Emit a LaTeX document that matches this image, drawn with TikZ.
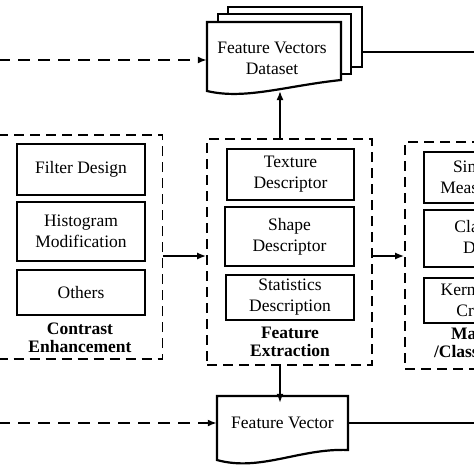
\documentclass[tikz,border=0pt]{standalone}
\usepackage{fontspec}
\setmainfont{Liberation Serif}
\usetikzlibrary{arrows.meta,positioning,calc}
\tikzset{
	item/.style={draw, line width=1.8pt, minimum width=128pt, align=center, inner sep=0pt},
	group/.style={draw, line width=1.6pt, dash pattern=on 10pt off 6pt, minimum width=165pt},
	title/.style={font=\fontsize{17.5}{18}\selectfont\bfseries, align=center},
	sheet/.style={draw, fill=white, line width=2.2pt, inner sep=0pt},
	docline/.style={draw, fill=white, line width=2.2pt},
	doctext/.style={align=center, inner sep=0pt, minimum height=40pt},
	flow/.style={->, line width=1.7pt},
	feed/.style={->, line width=1.7pt, dash pattern=on 12pt off 8pt},
}
\begin{document}
\begin{tikzpicture}[x=1pt, y=-1pt, >={Latex[length=9pt,width=7pt]}, font=\fontsize{17.5}{21}\selectfont]
	\useasboundingbox (0,0) rectangle (474,474);
	\clip (0,0) rectangle (474,474);
	% stacked dataset sheets
	\node[sheet, minimum width=134pt, minimum height=60pt] (fvd3) at (295,37) {};
	\node[sheet, minimum width=133pt, minimum height=60pt] (fvd2) at (284.5,44) {};
	\draw[docline] (207,91) -- (207,22) -- (341,22) -- (341,80) .. controls (285,86) and (245,100) .. cycle;
	\node[doctext, minimum width=130pt] (fvd) at (272,58) {Feature Vectors\\Dataset};
	\coordinate (fvdfoot) at (280,91);
	% contrast enhancement
	\node[group, minimum height=224pt] (ce) at (80,247) {};
	\node[item, minimum height=51pt] (fd) at (81,169.5) {Filter Design};
	\node[item, minimum height=59pt] (hm) at (81,231.5) {Histogram\\Modification};
	\node[item, minimum height=45pt] (ot) at (81,292.5) {Others};
	\node[title] (cet) at (80,338) {Contrast\\Enhancement};
	% feature extraction
	\node[group, minimum height=226pt] (fe) at (289.5,252) {};
	\node[item, minimum width=127pt, minimum height=51pt] (td) at (290.5,174.5) {Texture\\Descriptor};
	\node[item, minimum width=129pt, minimum height=59pt] (sd) at (289.5,236.5) {Shape\\Descriptor};
	\node[item, minimum height=45pt] (st) at (290,297.5) {Statistics\\Description};
	\node[title] (fet) at (290,341.5) {Feature\\Extraction};
	% matching / classification
	\node[group, minimum height=227pt] (mc) at (487.5,255.5) {};
	\node[item, minimum height=51pt] (sm) at (488,177.5) {Similarity\\Measurement};
	\node[item, minimum height=57pt] (cd) at (488,238.5) {Classifier\\Design};
	\node[item, minimum height=45pt] (kc) at (488,300.5) {Kernel Based\\Criterion};
	\node[title] (mct) at (487,343) {Matching\\/Classification};
	% query feature vector
	\draw[docline] (217,460) -- (217,396) -- (348,396) -- (348,450) .. controls (300,448) and (260,472) .. cycle;
	\node[doctext, minimum width=131pt] (fv) at (282.5,423) {Feature Vector};
	% connectors
	\coordinate (row) at (0,256);
	\coordinate (in1) at (-2,60);
	\coordinate (in2) at (-2,423);
	\coordinate (out1) at (476,52);
	\coordinate (out2) at (476,423);
	\draw[feed] (in1) -- (fvd.west |- in1);
	\draw[line width=1.7pt] (fvd3.east |- out1) -- (out1);
	\draw[flow] (fe.north -| fvdfoot) -- (fvdfoot);
	\draw[flow] (ce.east |- row) -- (fe.west |- row);
	\draw[flow] (fe.east |- row) -- (mc.west |- row);
	\draw[flow] (fe.south -| fvdfoot) -- (fv.north -| fvdfoot);
	\draw[feed] (in2) -- (fv.west);
	\draw[line width=1.7pt] (fv.east) -- (out2);
\end{tikzpicture}
\end{document}
